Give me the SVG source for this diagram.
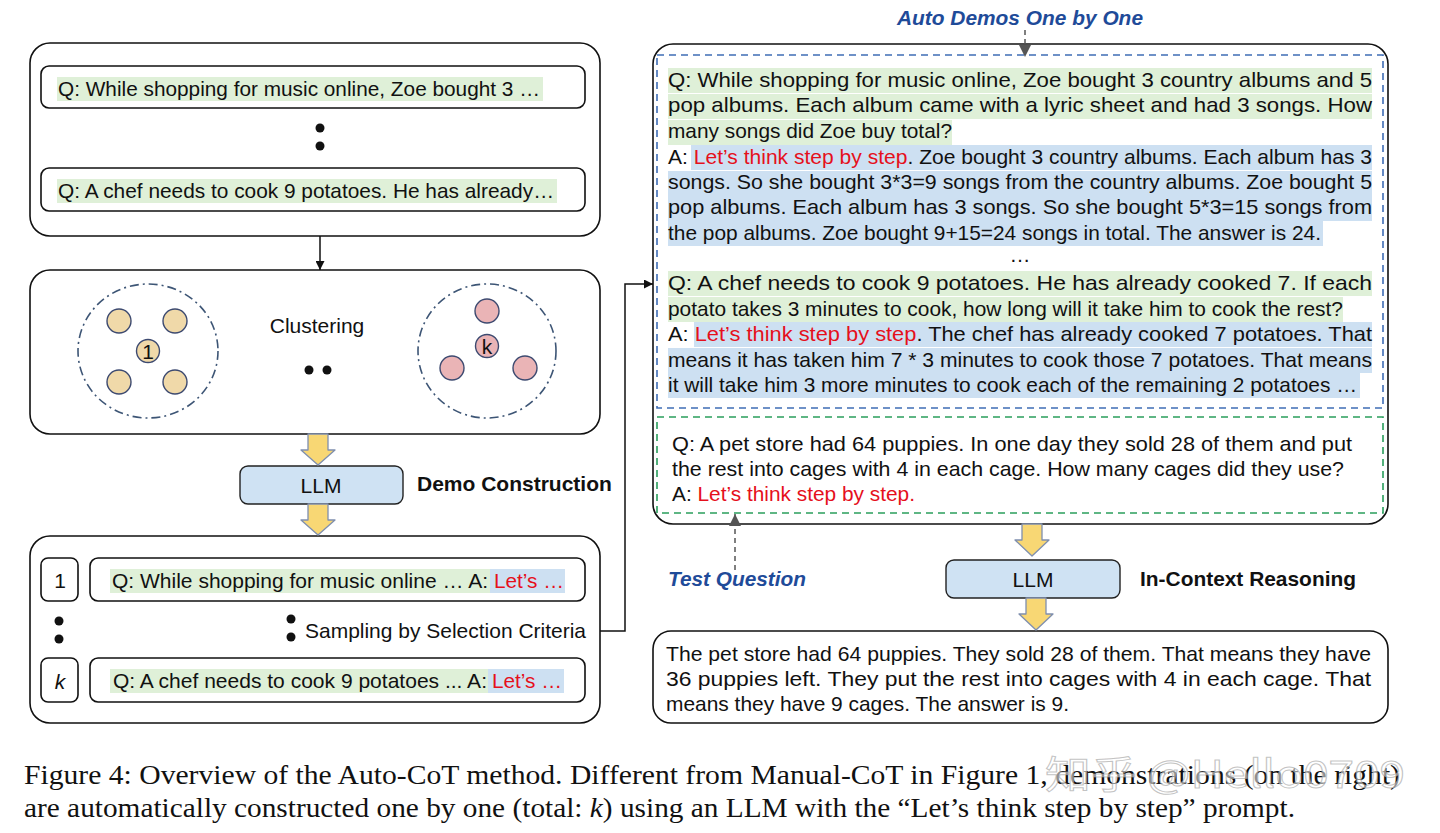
<svg xmlns="http://www.w3.org/2000/svg" width="1440" height="833" viewBox="0 0 1440 833">
<defs>
<style>
.t{font-family:"Liberation Sans",Arial,sans-serif;font-size:21px;fill:#111}
.b{font-weight:bold}
.bi{font-weight:bold;font-style:italic;fill:#1f4b99}
.red{fill:#e5101c}
.box{fill:#fff;stroke:#111;stroke-width:1.6}
.gr{fill:#dff0d8}
.bl{fill:#cde0f2}
.llm{fill:#cfe2f3;stroke:#222;stroke-width:1.4}
.yarr{fill:#f8d774;stroke:#7f8fae;stroke-width:1.3;stroke-linejoin:round}
.clu{fill:none;stroke:#3d5575;stroke-width:1.6;stroke-dasharray:9 4 2 4}
.tan{fill:#f0d9a9;stroke:#3d4a70;stroke-width:1.4}
.pink{fill:#eab4b6;stroke:#3d4a70;stroke-width:1.4}
.cap{font-family:"Liberation Serif","Times New Roman",serif;font-size:27px;fill:#111}
</style>
<marker id="ah" viewBox="0 0 10 10" refX="10" refY="5" markerWidth="9" markerHeight="9" markerUnits="userSpaceOnUse" orient="auto"><path d="M0,0 L10,5 L0,10 z" fill="#111"/></marker>
<marker id="ahg" viewBox="0 0 10 10" refX="10" refY="5" markerWidth="12" markerHeight="12" markerUnits="userSpaceOnUse" orient="auto"><path d="M0,0 L10,5 L0,10 z" fill="#555"/></marker>
</defs>
<rect width="1440" height="833" fill="#fff"/>

<g id="questions">
<rect class="box" x="30" y="43" width="570" height="193" rx="20"/>
<rect class="box" x="41" y="66" width="544" height="42" rx="8"/>
<rect class="gr" x="57" y="77" width="486" height="24"/>
<text class="t" x="58" y="96" textLength="482" lengthAdjust="spacingAndGlyphs">Q: While shopping for music online, Zoe bought 3 …</text>
<circle cx="320" cy="128" r="4.5" fill="#111"/>
<circle cx="320" cy="146" r="4.5" fill="#111"/>
<rect class="box" x="41" y="168" width="544" height="43" rx="8"/>
<rect class="gr" x="57" y="179" width="500" height="24"/>
<text class="t" x="58" y="198" textLength="496" lengthAdjust="spacingAndGlyphs">Q: A chef needs to cook 9 potatoes. He has already…</text>
</g>

<g id="clustering">
<rect class="box" x="30" y="270" width="570" height="164" rx="20"/>
<ellipse class="clu" cx="148" cy="351" rx="70" ry="67"/>
<circle class="tan" cx="119" cy="321" r="12"/>
<circle class="tan" cx="175" cy="321" r="12"/>
<circle class="tan" cx="119" cy="382" r="12"/>
<circle class="tan" cx="175" cy="382" r="12"/>
<circle class="tan" cx="148" cy="351" r="11.5"/>
<text class="t" x="148" y="359" text-anchor="middle" font-size="20">1</text>
<text class="t" x="317" y="333" text-anchor="middle" font-size="20">Clustering</text>
<circle cx="309" cy="370" r="4.5" fill="#111"/>
<circle cx="327" cy="370" r="4.5" fill="#111"/>
<ellipse class="clu" cx="487" cy="351" rx="69" ry="67"/>
<circle class="pink" cx="487" cy="311" r="12"/>
<circle class="pink" cx="487" cy="346" r="11.5"/>
<circle class="pink" cx="452" cy="368" r="12"/>
<circle class="pink" cx="525" cy="368" r="12"/>
<text class="t" x="487" y="354" text-anchor="middle" font-size="20">k</text>
</g>

<g id="llm-demo">
<rect class="llm" x="240" y="466" width="163" height="38" rx="8"/>
<text class="t" x="321" y="493" text-anchor="middle" font-size="20">LLM</text>
<text class="t b" x="417" y="491" font-size="20">Demo Construction</text>
</g>

<g id="sampled">
<rect class="box" x="30" y="536" width="570" height="187" rx="20"/>
<rect class="box" x="41" y="558" width="37" height="43" rx="7"/>
<text class="t" x="60" y="588" text-anchor="middle" font-size="20">1</text>
<rect class="box" x="90" y="558" width="495" height="43" rx="8"/>
<rect class="gr" x="110" y="569" width="380" height="24"/>
<rect class="bl" x="490" y="569" width="75" height="24"/>
<text class="t" x="112" y="588" textLength="376" lengthAdjust="spacingAndGlyphs">Q: While shopping for music online … A:</text>
<text class="t red" x="494" y="588" textLength="70" lengthAdjust="spacingAndGlyphs">Let’s …</text>
<circle cx="59" cy="621" r="4.5" fill="#111"/>
<circle cx="59" cy="639" r="4.5" fill="#111"/>
<circle cx="291" cy="619" r="4.5" fill="#111"/>
<circle cx="291" cy="637" r="4.5" fill="#111"/>
<text class="t" x="305" y="638" textLength="281" lengthAdjust="spacingAndGlyphs">Sampling by Selection Criteria</text>
<rect class="box" x="41" y="658" width="37" height="44" rx="7"/>
<text class="t" x="60" y="689" text-anchor="middle" font-size="20" font-style="italic">k</text>
<rect class="box" x="90" y="658" width="495" height="44" rx="8"/>
<rect class="gr" x="110" y="669" width="380" height="24"/>
<rect class="bl" x="488" y="669" width="76" height="24"/>
<text class="t" x="113" y="688" textLength="374" lengthAdjust="spacingAndGlyphs">Q: A chef needs to cook 9 potatoes ... A:</text>
<text class="t red" x="492" y="688" textLength="70" lengthAdjust="spacingAndGlyphs">Let’s …</text>
</g>

<g id="demos">
<text class="t bi" x="1020" y="25" text-anchor="middle" font-size="19" textLength="246" lengthAdjust="spacingAndGlyphs">Auto Demos One by One</text>
<rect class="box" x="653" y="44" width="735" height="480" rx="20"/>
<rect x="657" y="55" width="726" height="353" fill="none" stroke="#3f6db5" stroke-width="1.6" stroke-dasharray="7 5"/>
<rect class="gr" x="668" y="68" width="704" height="25"/>
<rect class="gr" x="668" y="94" width="704" height="25"/>
<rect class="gr" x="668" y="120" width="284" height="25"/>
<rect class="bl" x="691" y="145" width="681" height="25"/>
<rect class="bl" x="668" y="171" width="704" height="25"/>
<rect class="bl" x="668" y="196" width="704" height="25"/>
<rect class="bl" x="668" y="221" width="655" height="25"/>
<rect class="gr" x="668" y="271" width="704" height="25"/>
<rect class="gr" x="668" y="297" width="675" height="25"/>
<rect class="bl" x="694" y="322" width="678" height="25"/>
<rect class="bl" x="668" y="348" width="704" height="25"/>
<rect class="bl" x="668" y="373" width="692" height="25"/>
<text class="t" x="668" y="87" textLength="704" lengthAdjust="spacingAndGlyphs">Q: While shopping for music online, Zoe bought 3 country albums and 5</text>
<text class="t" x="668" y="112" textLength="704" lengthAdjust="spacingAndGlyphs">pop albums. Each album came with a lyric sheet and had 3 songs. How</text>
<text class="t" x="668" y="138" textLength="284" lengthAdjust="spacingAndGlyphs">many songs did Zoe buy total?</text>
<text class="t" x="668" y="164" textLength="704" lengthAdjust="spacingAndGlyphs">A: <tspan class="red">Let’s think step by step</tspan>. Zoe bought 3 country albums. Each album has 3</text>
<text class="t" x="668" y="189" textLength="704" lengthAdjust="spacingAndGlyphs">songs. So she bought 3*3=9 songs from the country albums. Zoe bought 5</text>
<text class="t" x="668" y="214" textLength="704" lengthAdjust="spacingAndGlyphs">pop albums. Each album has 3 songs. So she bought 5*3=15 songs from</text>
<text class="t" x="668" y="240" textLength="653" lengthAdjust="spacingAndGlyphs">the pop albums. Zoe bought 9+15=24 songs in total. The answer is 24.</text>
<text class="t" x="1020" y="262" text-anchor="middle" font-size="18">…</text>
<text class="t" x="668" y="290" textLength="704" lengthAdjust="spacingAndGlyphs">Q: A chef needs to cook 9 potatoes. He has already cooked 7. If each</text>
<text class="t" x="668" y="316" textLength="675" lengthAdjust="spacingAndGlyphs">potato takes 3 minutes to cook, how long will it take him to cook the rest?</text>
<text class="t" x="668" y="341" textLength="704" lengthAdjust="spacingAndGlyphs">A: <tspan class="red">Let’s think step by step</tspan>. The chef has already cooked 7 potatoes. That</text>
<text class="t" x="668" y="367" textLength="704" lengthAdjust="spacingAndGlyphs">means it has taken him 7 * 3 minutes to cook those 7 potatoes. That means</text>
<text class="t" x="668" y="392" textLength="689" lengthAdjust="spacingAndGlyphs">it will take him 3 more minutes to cook each of the remaining 2 potatoes …</text>
</g>

<g id="test-question">
<rect x="657" y="417" width="726" height="96" fill="none" stroke="#2a9e5c" stroke-width="1.6" stroke-dasharray="7 5"/>
<text class="t" x="672" y="451" textLength="680" lengthAdjust="spacingAndGlyphs">Q: A pet store had 64 puppies. In one day they sold 28 of them and put</text>
<text class="t" x="672" y="476" textLength="672" lengthAdjust="spacingAndGlyphs">the rest into cages with 4 in each cage. How many cages did they use?</text>
<text class="t" x="672" y="501" textLength="243" lengthAdjust="spacingAndGlyphs">A: <tspan class="red">Let’s think step by step.</tspan></text>
<text class="t bi" x="668" y="586" font-size="19" textLength="138" lengthAdjust="spacingAndGlyphs">Test Question</text>
</g>

<g id="llm-reason">
<rect class="llm" x="946" y="560" width="174" height="38" rx="8"/>
<text class="t" x="1033" y="587" text-anchor="middle" font-size="20">LLM</text>
<text class="t b" x="1140" y="586" font-size="20" textLength="216" lengthAdjust="spacingAndGlyphs">In-Context Reasoning</text>
</g>

<g id="output">
<rect class="box" x="653" y="631" width="735" height="92" rx="18"/>
<text class="t" x="666" y="661" textLength="705" lengthAdjust="spacingAndGlyphs">The pet store had 64 puppies. They sold 28 of them. That means they have</text>
<text class="t" x="666" y="686" textLength="705" lengthAdjust="spacingAndGlyphs">36 puppies left. They put the rest into cages with 4 in each cage. That</text>
<text class="t" x="666" y="711" textLength="403" lengthAdjust="spacingAndGlyphs">means they have 9 cages. The answer is 9.</text>
</g>

<g id="connectors">
<line x1="320" y1="236" x2="320" y2="270" stroke="#111" stroke-width="1.5" marker-end="url(#ah)"/>
<polyline points="600,631 625,631 625,284 653,284" fill="none" stroke="#111" stroke-width="1.5" marker-end="url(#ah)"/>
<line x1="1025" y1="30" x2="1025" y2="57" stroke="#555" stroke-width="1.5" stroke-dasharray="5 4" marker-end="url(#ahg)"/>
<line x1="735" y1="570" x2="735" y2="514" stroke="#555" stroke-width="1.5" stroke-dasharray="5 4" marker-end="url(#ahg)"/>
<path class="yarr" d="M308,434 H328 V450 H335 L318,465 L301,450 H308 Z"/>
<path class="yarr" d="M308,504 H328 V520 H335 L318,535 L301,520 H308 Z"/>
<path class="yarr" d="M1022,524 H1042 V540 H1049 L1032,556 L1015,540 H1022 Z"/>
<path class="yarr" d="M1026,598 H1046 V614 H1053 L1036,630 L1019,614 H1026 Z"/>
</g>

<g id="caption">
<text class="cap" x="24" y="784" textLength="1376" lengthAdjust="spacingAndGlyphs">Figure 4: Overview of the Auto-CoT method. Different from Manual-CoT in Figure 1, demonstrations (on the right)</text>
<text class="cap" x="24" y="817" textLength="1271" lengthAdjust="spacingAndGlyphs">are automatically constructed one by one (total: <tspan font-style="italic">k</tspan>) using an LLM with the “Let’s think step by step” prompt.</text>
<text x="1045" y="788" font-family="'Noto Sans CJK SC','Liberation Sans',sans-serif" font-size="38" fill="#fff" fill-opacity="0.55" stroke="#9a9a9a" stroke-opacity="0.6" stroke-width="1" textLength="360" lengthAdjust="spacingAndGlyphs">知乎 @Hello0709</text>
</g>
</svg>
